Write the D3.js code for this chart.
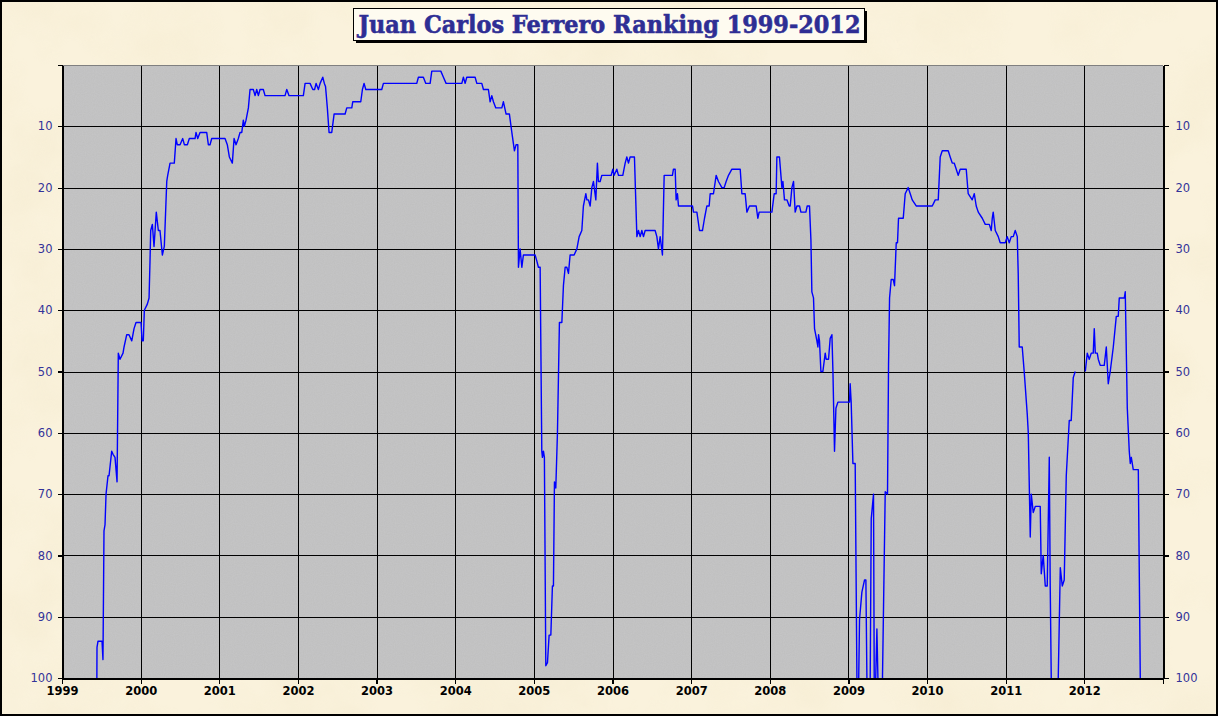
<!DOCTYPE html>
<html>
<head>
<meta charset="utf-8">
<script src="https://cdn.jsdelivr.net/npm/d3@7"></script>
<style>
  html, body { margin: 0; padding: 0; background: #f8efd6; }
  svg { display: block; }
</style>
</head>
<body>
<svg id="chart" width="1218" height="716"></svg>
<script>
// ---- DATA ----
const chartTitle = "Juan Carlos Ferrero Ranking 1999-2012";
const yearTicks = [1999, 2000, 2001, 2002, 2003, 2004, 2005, 2006, 2007, 2008, 2009, 2010, 2011, 2012, 2013];
const rankTicks = [0, 10, 20, 30, 40, 50, 60, 70, 80, 90, 100];

// decimal year of each ranking point
const dates = [
  1999.440, 1999.445, 1999.458, 1999.477, 1999.509, 1999.521, 1999.534, 1999.547, 1999.560, 1999.585,
  1999.598, 1999.632, 1999.649, 1999.674, 1999.700, 1999.716, 1999.738, 1999.776, 1999.789, 1999.823,
  1999.852, 1999.887, 1999.916, 1999.941, 2000.005, 2000.018, 2000.034, 2000.047, 2000.085, 2000.107,
  2000.119, 2000.128, 2000.149, 2000.170, 2000.199, 2000.225, 2000.246, 2000.276, 2000.301, 2000.332,
  2000.344, 2000.374, 2000.428, 2000.450, 2000.466, 2000.501, 2000.535, 2000.556, 2000.594, 2000.619,
  2000.692, 2000.704, 2000.726, 2000.755, 2000.840, 2000.861, 2000.882, 2000.904, 2001.073, 2001.102,
  2001.128, 2001.166, 2001.188, 2001.213, 2001.242, 2001.264, 2001.286, 2001.306, 2001.319, 2001.340,
  2001.370, 2001.391, 2001.433, 2001.455, 2001.476, 2001.497, 2001.518, 2001.560, 2001.582, 2001.624,
  2001.836, 2001.858, 2001.887, 2002.069, 2002.091, 2002.154, 2002.189, 2002.212, 2002.231, 2002.260,
  2002.282, 2002.316, 2002.336, 2002.351, 2002.374, 2002.396, 2002.430, 2002.460, 2002.600, 2002.621,
  2002.685, 2002.697, 2002.799, 2002.820, 2002.841, 2002.863, 2003.066, 2003.087, 2003.511, 2003.532,
  2003.595, 2003.626, 2003.681, 2003.702, 2003.817, 2003.850, 2003.884, 2004.084, 2004.104, 2004.126,
  2004.147, 2004.253, 2004.275, 2004.338, 2004.359, 2004.422, 2004.444, 2004.465, 2004.486, 2004.516,
  2004.593, 2004.613, 2004.647, 2004.689, 2004.720, 2004.753, 2004.774, 2004.796, 2004.804, 2004.825,
  2004.847, 2004.867, 2005.016, 2005.038, 2005.058, 2005.080, 2005.101, 2005.109, 2005.122, 2005.134,
  2005.152, 2005.173, 2005.194, 2005.216, 2005.236, 2005.249, 2005.262, 2005.279, 2005.300, 2005.325,
  2005.356, 2005.376, 2005.398, 2005.419, 2005.440, 2005.461, 2005.512, 2005.547, 2005.576, 2005.610,
  2005.630, 2005.661, 2005.674, 2005.694, 2005.716, 2005.737, 2005.758, 2005.788, 2005.808, 2005.821,
  2005.843, 2005.864, 2005.983, 2006.004, 2006.021, 2006.055, 2006.076, 2006.131, 2006.161, 2006.182,
  2006.203, 2006.224, 2006.279, 2006.310, 2006.330, 2006.352, 2006.373, 2006.394, 2006.415, 2006.542,
  2006.564, 2006.584, 2006.606, 2006.635, 2006.657, 2006.762, 2006.775, 2006.797, 2006.809, 2006.826,
  2006.839, 2007.017, 2007.030, 2007.073, 2007.106, 2007.144, 2007.170, 2007.200, 2007.229, 2007.242,
  2007.284, 2007.318, 2007.347, 2007.391, 2007.420, 2007.445, 2007.475, 2007.518, 2007.624, 2007.645,
  2007.687, 2007.709, 2007.742, 2007.827, 2007.848, 2007.865, 2008.027, 2008.056, 2008.081, 2008.090,
  2008.123, 2008.154, 2008.167, 2008.187, 2008.218, 2008.247, 2008.260, 2008.281, 2008.302, 2008.323,
  2008.345, 2008.378, 2008.396, 2008.459, 2008.476, 2008.505, 2008.523, 2008.535, 2008.556, 2008.569,
  2008.599, 2008.612, 2008.620, 2008.632, 2008.650, 2008.675, 2008.705, 2008.717, 2008.747, 2008.768,
  2008.790, 2008.803, 2008.823, 2008.841, 2008.866, 2009.014, 2009.022, 2009.035, 2009.057, 2009.086,
  2009.108, 2009.118, 2009.131, 2009.141, 2009.171, 2009.205, 2009.222, 2009.235, 2009.245, 2009.264,
  2009.277, 2009.290, 2009.319, 2009.328, 2009.334, 2009.347, 2009.362, 2009.375, 2009.385, 2009.423,
  2009.433, 2009.468, 2009.497, 2009.510, 2009.523, 2009.544, 2009.570, 2009.586, 2009.608, 2009.624,
  2009.637, 2009.697, 2009.722, 2009.760, 2009.786, 2009.811, 2009.862, 2010.066, 2010.104, 2010.142,
  2010.167, 2010.193, 2010.269, 2010.294, 2010.320, 2010.345, 2010.371, 2010.396, 2010.421, 2010.498,
  2010.523, 2010.574, 2010.600, 2010.625, 2010.651, 2010.702, 2010.740, 2010.791, 2010.816, 2010.829,
  2010.841, 2010.867, 2010.905, 2010.930, 2010.994, 2011.019, 2011.045, 2011.070, 2011.096, 2011.121,
  2011.147, 2011.159, 2011.172, 2011.210, 2011.235, 2011.274, 2011.287, 2011.312, 2011.325, 2011.350,
  2011.376, 2011.439, 2011.452, 2011.477, 2011.503, 2011.528, 2011.554, 2011.566, 2011.579, 2011.592,
  2011.655, 2011.668, 2011.694, 2011.719, 2011.744, 2011.770, 2011.808, 2011.833, 2011.859, 2011.884,
  2011.950, 2012.012, 2012.037, 2012.062, 2012.088, 2012.113, 2012.126, 2012.139, 2012.164, 2012.177,
  2012.202, 2012.253, 2012.279, 2012.304, 2012.329, 2012.368, 2012.406, 2012.431, 2012.444, 2012.508,
  2012.520, 2012.546, 2012.571, 2012.584, 2012.597, 2012.622, 2012.686, 2012.711, 2012.724
];

// ATP ranking at each date (null = no ranking published)
const ranks = [
  110, 95, 94, 94, 94, 97, 76, 75, 70, 67,
  67, 63, 63.5, 64, 68, 47, 48, 47, 46, 44,
  44, 45, 43, 42, 42, 45, 45, 40, 39, 38,
  32, 27, 26, 29.6, 24, 27, 27, 31, 29.6, 19,
  18, 16, 16, 12, 13, 13, 12, 13, 13, 12,
  12, 11, 12, 11, 11, 13, 13, 12, 12, 13,
  15, 16, 12, 13, 12, 11, 11, 9, 10, 9,
  7, 4, 4, 5, 4, 5, 4, 4, 5, 5,
  5, 4, 5, 5, 3, 3, 4, 4, 3, 4,
  3, 2, 3, 3.5, 7, 11, 11, 8, 8, 7,
  7, 6, 6, 4, 3, 4, 4, 3, 3, 2,
  2, 3, 3, 1, 1, 2, 3, 3, 2, 3,
  2, 2, 3, 3, 4, 4, 6, 5, 6, 7,
  7, 6, 8, 8, 11, 14, 13, 13, 33, 30,
  33, 31, 31, 32, 33, 33, 63, 64, 63, 64,
  98, 97.5, 93, 93, 85, 85, 68, 69, 60, 42,
  42, 36, 33, 33, 34, 31, 31, 30, 28, 27,
  23, 21, 22, 22, 23, 20, 19, 22, 16, 19,
  19, 18, 18, 17, 18, 17, 18, 18, 16, 15,
  16, 15, 15, 28, 27, 28, 27, 28, 27, 27,
  28, 30, 28, 31, 18, 18, 17, 17, 22, 21,
  23, 23, 24, 24, 27, 27, 25, 23, 23, 21,
  21, 18, 19, 20, 20, 19, 18, 17, 17, 21,
  21, 24, 23, 23, 25, 24, 24, 21, 21, 15,
  15, 20, 19, 22, 22, 23, 23, 20, 19, 24,
  23, 23, 24, 24, 23, 23, 28.5, 37, 38, 43,
  45, 46, 44, 45, 50, 50, 47, 48, 48, 44.6,
  44, 50, 63, 56, 55, 55, 52, 55, 65, 65,
  100, 120, 100, 90.5, 86, 84, 84, 100, 120, 120,
  100, 74, 70, 100, 120, 100, 92, 100, 120, 120,
  100, 69.6, 70, 49, 38, 35, 35, 36, 29, 29,
  25, 25, 21, 20, 21, 22, 23, 23, 22, 22,
  15, 14, 14, 15, 16, 16, 17, 18, 17, 17,
  21, 22, 21, 23, 24, 25, 26, 26, 27, 25,
  24, 27, 28, 29, 29, 28, 29, 28, 28, 27,
  28, 34, 46, 46, 50, 57, 60, 77, 70, 73,
  72, 72, 83, 80, 85, 85, 64, 85, 100, 120,
  120, 100, 82, 85, 84, 67, 58, 58, 51, 50,
  null, 50, 47, 48, 47, 47, 43, 47, 47, 48,
  49, 49, 46, 52, 50, 46, 41, 41, 38, 38,
  37, 56, 63, 65, 64, 66, 66, 100, 120
];

// ---- CHART ----
const W = 1218, H = 716;
const margin = { left: 62, right: 55, top: 65, bottom: 38 };
const plotL = margin.left, plotR = W - margin.right, plotT = margin.top, plotB = H - margin.bottom;

const svg = d3.select("#chart");
const defs = svg.append("defs");

// parchment texture
const f = defs.append("filter").attr("id", "paper").attr("x", 0).attr("y", 0).attr("width", 1).attr("height", 1);
f.append("feTurbulence").attr("type", "fractalNoise").attr("baseFrequency", "0.012").attr("numOctaves", 4).attr("seed", 7).attr("result", "n");
f.append("feColorMatrix").attr("in", "n").attr("type", "matrix")
  .attr("values", "0 0 0 0 0.91  0 0 0 0 0.83  0 0 0 0 0.63  1.6 0 0 0 -0.68");

// fine grain for plot background
const g2 = defs.append("filter").attr("id", "grain").attr("x", 0).attr("y", 0).attr("width", 1).attr("height", 1);
g2.append("feTurbulence").attr("type", "fractalNoise").attr("baseFrequency", "0.9").attr("numOctaves", 1).attr("seed", 2).attr("result", "n");
g2.append("feColorMatrix").attr("in", "n").attr("type", "matrix")
  .attr("values", "0 0 0 0 0.70  0 0 0 0 0.70  0 0 0 0 0.74  0 0 0 0.5 -0.1");

defs.append("clipPath").attr("id", "plotClip")
  .append("rect").attr("x", plotL).attr("y", plotT).attr("width", plotR - plotL).attr("height", plotB - plotT);

svg.append("rect").attr("width", W).attr("height", H).attr("fill", "#faf2dc");
svg.append("rect").attr("width", W).attr("height", H).attr("filter", "url(#paper)").attr("opacity", 0.75);

const x = d3.scaleLinear().domain([yearTicks[0], yearTicks[yearTicks.length - 1]]).range([plotL, plotR]);
const y = d3.scaleLinear().domain([0, 100]).range([plotT, plotB]);

// plot area
svg.append("rect").attr("x", plotL).attr("y", plotT).attr("width", plotR - plotL).attr("height", plotB - plotT)
  .attr("fill", "#c0c0c0");
svg.append("rect").attr("x", plotL).attr("y", plotT).attr("width", plotR - plotL).attr("height", plotB - plotT)
  .attr("filter", "url(#grain)").attr("opacity", 0.6);

// gridlines
const grid = svg.append("g").attr("stroke", "#000").attr("stroke-width", 1).attr("shape-rendering", "crispEdges");
grid.selectAll(".vg").data(yearTicks.slice(1, -1)).join("line")
  .attr("x1", d => Math.round(x(d)) + 0.5).attr("x2", d => Math.round(x(d)) + 0.5)
  .attr("y1", plotT).attr("y2", plotB);
grid.selectAll(".hg").data(rankTicks.slice(1, -1)).join("line")
  .attr("x1", plotL).attr("x2", plotR)
  .attr("y1", d => Math.round(y(d)) + 0.5).attr("y2", d => Math.round(y(d)) + 0.5);

// top border of plot (grey)
svg.append("line").attr("x1", plotL).attr("x2", plotR).attr("y1", plotT + 0.5).attr("y2", plotT + 0.5)
  .attr("stroke", "#808080").attr("shape-rendering", "crispEdges");

// data line
const pts = dates.map((d, i) => ({ t: d, r: ranks[i] }));
const line = d3.line().defined(d => d.r !== null).x(d => x(d.t)).y(d => y(d.r));
svg.append("path").datum(pts).attr("clip-path", "url(#plotClip)")
  .attr("fill", "none").attr("stroke", "#0000ff").attr("stroke-width", 1.4)
  .attr("stroke-linejoin", "round").attr("d", line);

// axes
const yFmt = d => d === 0 ? "" : d;
const leftAx = svg.append("g").attr("transform", `translate(${plotL + 0.5},0)`)
  .call(d3.axisLeft(y).tickValues(rankTicks).tickFormat(yFmt).tickSize(5).tickSizeOuter(0).tickPadding(5));
const rightAx = svg.append("g").attr("transform", `translate(${plotR + 0.5},0)`)
  .call(d3.axisRight(y).tickValues(rankTicks).tickFormat(yFmt).tickSize(5).tickSizeOuter(0).tickPadding(7));
const botAx = svg.append("g").attr("transform", `translate(0,${plotB + 0.5})`)
  .call(d3.axisBottom(x).tickValues(yearTicks).tickFormat(d => d === 2013 ? "" : d).tickSize(5).tickSizeOuter(0).tickPadding(3));

[leftAx, rightAx, botAx].forEach(a => {
  a.attr("shape-rendering", "crispEdges");
  a.selectAll("path, line").attr("stroke", "#000").attr("stroke-width", 1.2);
});
[leftAx, rightAx].forEach(a => a.selectAll("text")
  .attr("fill", "#333399").attr("font-family", "DejaVu Sans, Verdana, sans-serif").attr("font-size", 11.5));
botAx.selectAll("text").attr("fill", "#000").attr("font-family", "DejaVu Sans, Verdana, sans-serif")
  .attr("font-size", 11.5).attr("font-weight", "bold");

// title box
const tb = { x: 353, y: 8, w: 511, h: 32 };
svg.append("rect").attr("x", tb.x + 3).attr("y", tb.y + 3).attr("width", tb.w).attr("height", tb.h).attr("fill", "#000");
svg.append("rect").attr("x", tb.x + 0.5).attr("y", tb.y + 0.5).attr("width", tb.w).attr("height", tb.h)
  .attr("fill", "#fefbf0").attr("stroke", "#000").attr("stroke-width", 1);
svg.append("text").attr("x", tb.x + tb.w / 2 + 1).attr("y", tb.y + 25)
  .attr("text-anchor", "middle").attr("font-family", "DejaVu Serif, serif").attr("font-weight", "bold")
  .attr("font-size", 24).attr("fill", "#2e2e94").attr("stroke", "#2e2e94").attr("stroke-width", 0.6)
  .attr("textLength", 502).attr("lengthAdjust", "spacingAndGlyphs")
  .text(chartTitle);

// outer border
svg.append("rect").attr("x", 1).attr("y", 1).attr("width", W - 2).attr("height", H - 2)
  .attr("fill", "none").attr("stroke", "#000").attr("stroke-width", 2);
</script>
</body>
</html>
